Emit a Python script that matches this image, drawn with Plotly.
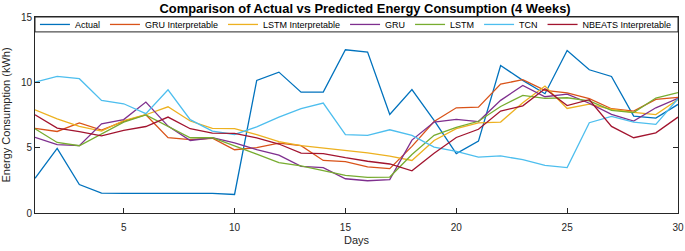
import plotly.graph_objects as go

days = list(range(1, 31))

actual = [2.65, 4.95, 2.18, 1.52, 1.5, 1.5, 1.45, 1.48, 1.5, 1.42, 10.15, 10.78, 9.25, 9.25, 12.49,
          12.31, 7.54, 9.45, 7.09, 4.54, 5.5, 11.29, 10.15, 9.13, 12.44, 10.96, 10.45, 7.41, 7.26, 8.31]
gru_interp = [6.47, 6.24, 6.9, 6.35, 7.01, 7.52, 5.76, 5.62, 5.72, 4.84, 5.0, 5.35, 5.15, 4.02, 3.93,
              3.53, 3.39, 5.1, 7.0, 8.05, 8.1, 9.86, 10.2, 9.38, 9.2, 8.75, 7.98, 7.8, 8.7, 8.85]
lstm_interp = [7.9, 7.21, 6.63, 6.27, 7.08, 7.52, 8.13, 7.04, 6.48, 6.46, 6.0, 5.47, 5.16, 4.97, 4.79,
               4.6, 4.35, 4.02, 5.55, 6.45, 6.9, 6.96, 8.43, 9.72, 8.0, 8.33, 7.94, 7.7, 7.53, 8.68]
gru = [5.79, 5.24, 5.15, 6.83, 7.15, 8.49, 6.65, 5.55, 5.76, 5.37, 4.85, 4.43, 3.57, 3.47, 2.62,
       2.47, 2.56, 5.58, 6.96, 7.16, 7.0, 8.62, 9.76, 8.9, 9.1, 8.4, 7.55, 7.03, 8.05, 8.78]
lstm = [6.45, 5.4, 5.15, 6.03, 6.96, 7.5, 6.62, 5.76, 5.76, 5.1, 4.5, 3.86, 3.6, 3.24, 2.88,
        2.73, 2.75, 4.48, 5.94, 6.55, 7.02, 8.15, 9.0, 8.77, 8.82, 8.58, 7.85, 7.68, 8.8, 9.22]
tcn = [10.02, 10.45, 10.28, 8.62, 8.36, 7.6, 9.43, 7.14, 6.27, 6.01, 6.59, 7.34, 7.98, 8.41, 5.99,
       5.94, 6.37, 5.94, 5.04, 4.71, 4.28, 4.37, 4.08, 3.64, 3.47, 6.91, 7.39, 6.95, 6.78, 8.75]
nbeats_interp = [7.52, 6.5, 6.22, 5.91, 6.32, 6.62, 7.34, 6.45, 6.11, 6.09, 5.75, 5.28, 4.58, 4.54, 4.23,
                 3.96, 3.75, 3.23, 4.57, 5.78, 6.41, 7.8, 8.2, 9.51, 8.22, 8.67, 6.63, 5.76, 6.14, 7.34]

series = [
    ("Actual", actual, "#0072BD"),
    ("GRU Interpretable", gru_interp, "#D95319"),
    ("LSTM Interpretable", lstm_interp, "#EDB120"),
    ("GRU", gru, "#7E2F8E"),
    ("LSTM", lstm, "#77AC30"),
    ("TCN", tcn, "#4DBEEE"),
    ("NBEATS Interpretable", nbeats_interp, "#A2142F"),
]

x_ticks = [5, 10, 15, 20, 25, 30]
y_ticks = [0, 5, 10, 15]

FONT = "Arial, Liberation Sans, sans-serif"

fig = go.Figure()
for name, vals, color in series:
    fig.add_trace(go.Scatter(x=days, y=vals, mode="lines", name=name,
                             line=dict(color=color, width=1.3)))

axis_common = dict(showgrid=False, zeroline=False, showline=True, linecolor="#262626",
                   linewidth=1, mirror="ticks", ticks="inside", ticklen=5, tickcolor="#262626",
                   tickfont=dict(family=FONT, size=10, color="#262626"))

# legend frame (MATLAB-style box across the top of the axes)
fig.add_shape(type="rect", xref="paper", yref="paper", x0=0, x1=1, y0=0.924, y1=1,
              line=dict(color="#262626", width=1), fillcolor="white", layer="above")

fig.update_layout(
    width=685, height=251,
    margin=dict(l=35, r=7, t=17, b=38, autoexpand=False),
    paper_bgcolor="white", plot_bgcolor="white",
    font=dict(family=FONT, color="#262626"),
    title=dict(text="<b>Comparison of Actual vs Predicted Energy Consumption (4 Weeks)</b>",
               font=dict(family=FONT, size=12.9, color="black"),
               x=0.533, xanchor="center", y=0.966, yanchor="middle"),
    xaxis=dict(range=[1, 30], tickvals=x_ticks, ticklabelstandoff=5,
               title=dict(text="Days", font=dict(family=FONT, size=11, color="#262626"), standoff=4),
               **axis_common),
    yaxis=dict(range=[0, 15], tickvals=y_ticks,
               title=dict(text="Energy Consumption (kWh)", font=dict(family=FONT, size=11, color="#262626"),
                          standoff=10),
               **axis_common),
    legend=dict(orientation="h", x=-0.0001, xanchor="left", y=1.036, yanchor="top",
                bgcolor="rgba(0,0,0,0)", borderwidth=0,
                font=dict(family=FONT, size=9, color="black"),
                itemwidth=30, tracegroupgap=0),
    showlegend=True,
)

fig.write_html("out.html", config={"displayModeBar": False},
               post_script="document.body.style.margin='0';")
